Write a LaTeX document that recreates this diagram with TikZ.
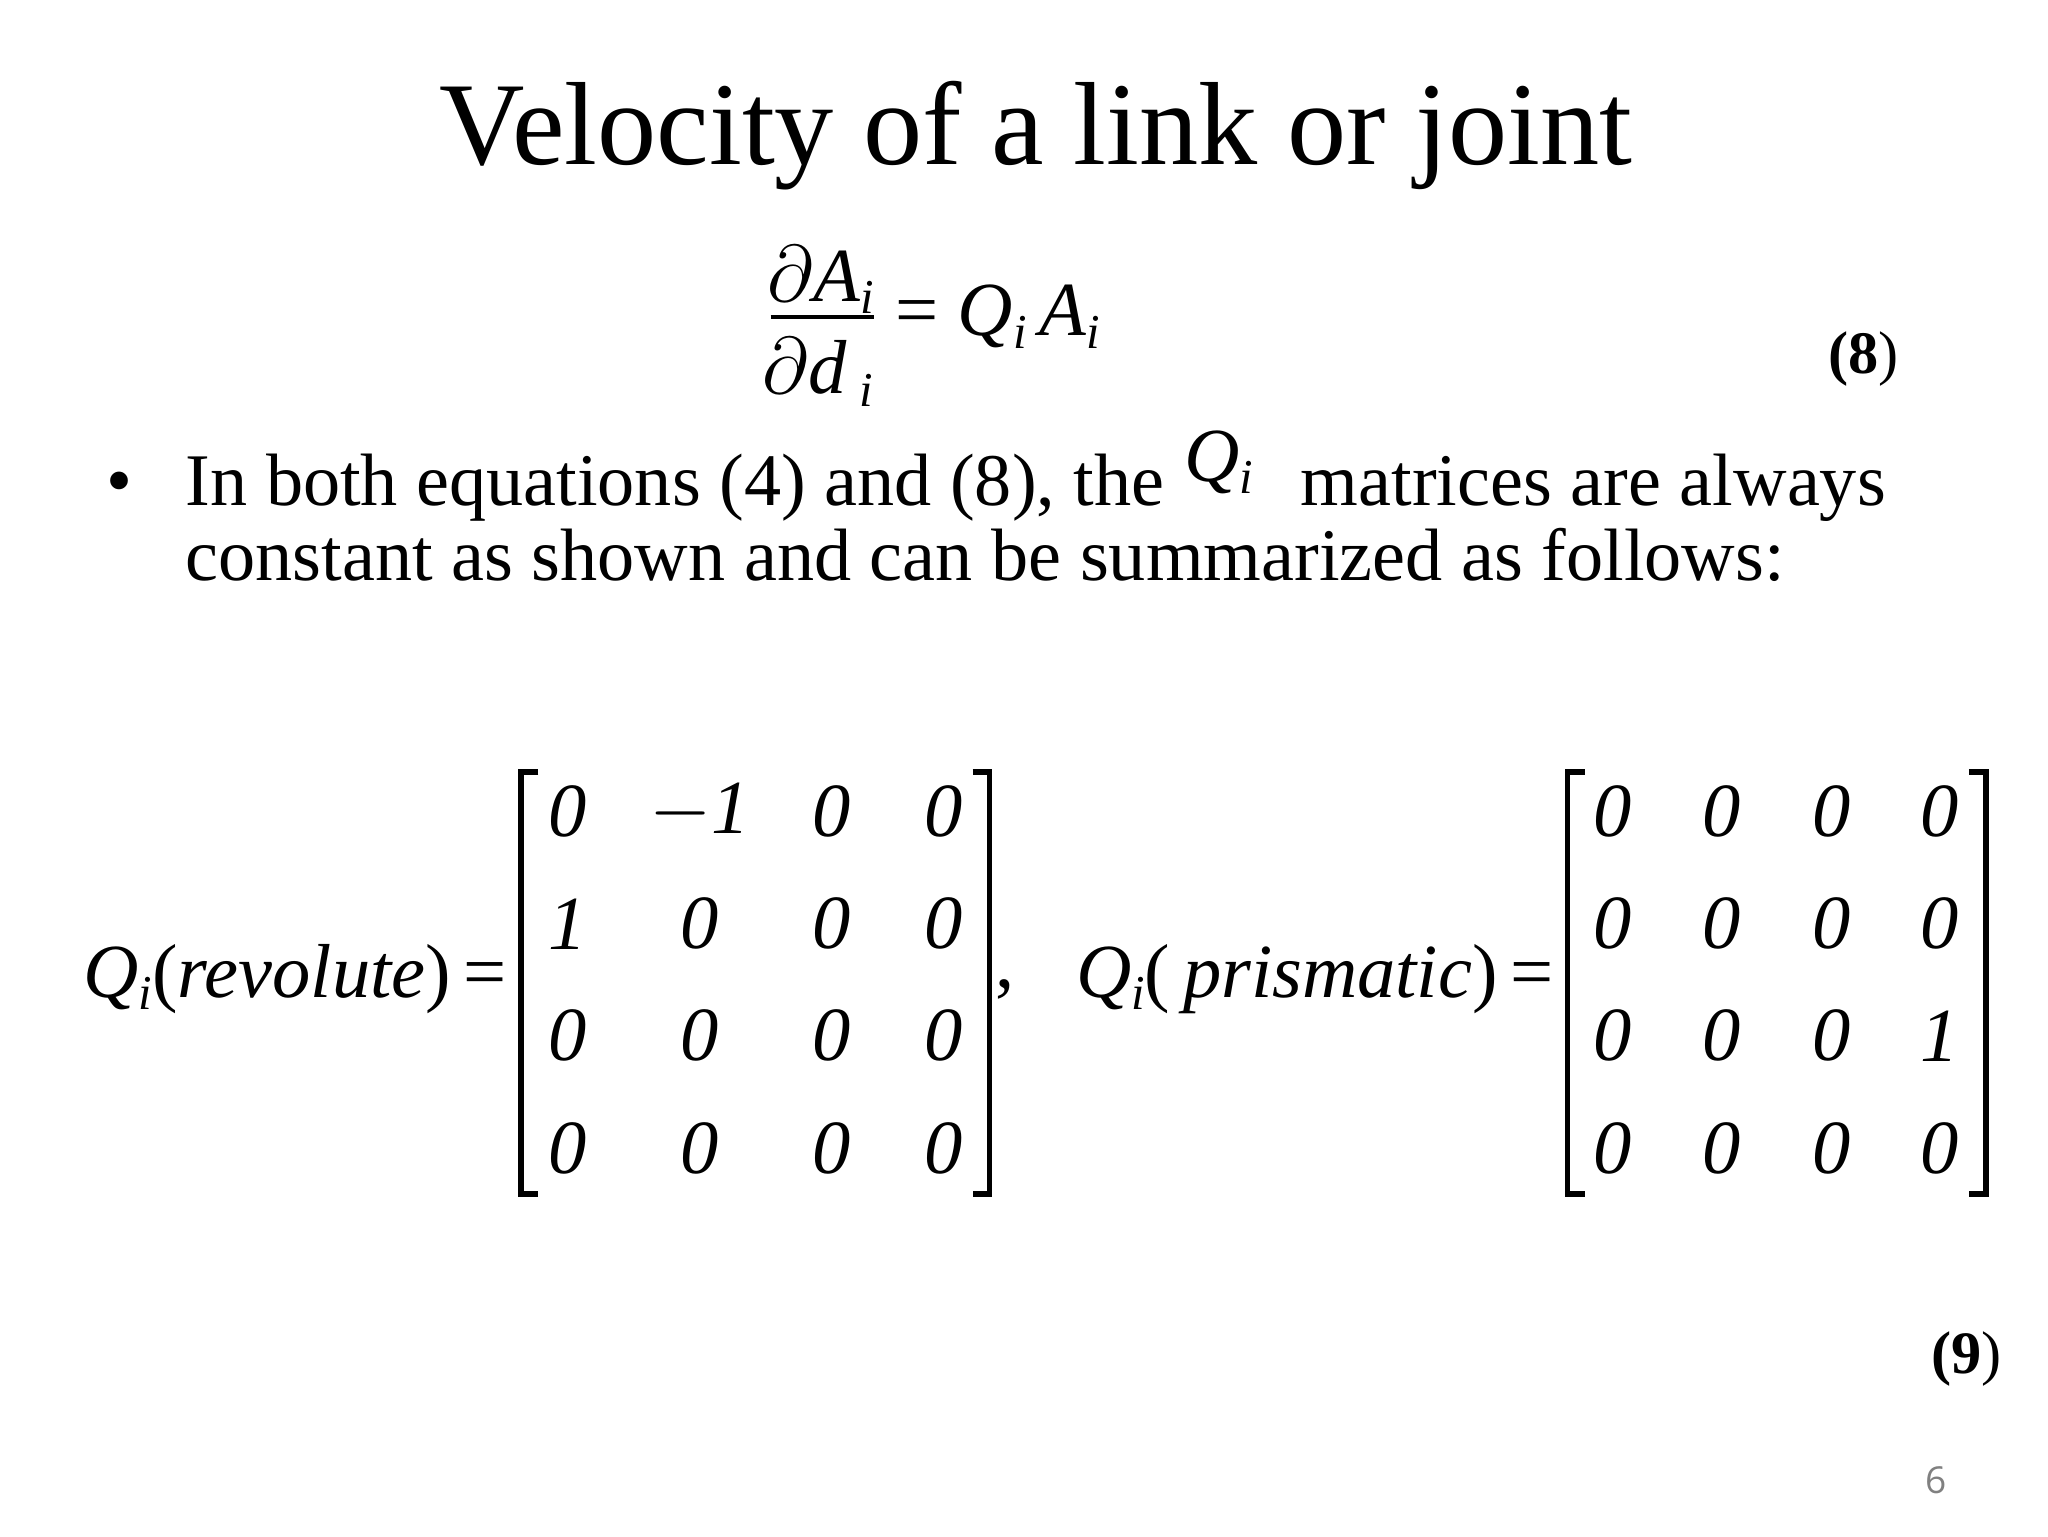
\documentclass[tikz,border=0pt]{standalone}
\usepackage{fontspec}
\setmainfont{Liberation Serif}
\newfontfamily\sansf{Open Sans}
\newcommand{\mysub}[1]{\raisebox{-0.35ex}{\fontsize{10.5}{12}\selectfont\itshape #1}}
\begin{document}
\begin{tikzpicture}[x=0.1mm,y=-0.1mm,
  title/.style={font=\fontsize{25.5}{30}\selectfont},
  body/.style={font=\fontsize{16}{19}\selectfont, anchor=base west, inner sep=0},
  ent/.style={font=\fontsize{16.5}{20}\selectfont\itshape, inner sep=0},
  eq/.style={font=\fontsize{16.5}{20}\selectfont, inner sep=0},
  num/.style={font=\fontsize{13}{15}\selectfont, inner sep=0},
  brk/.style={line width=1.2pt}]
\useasboundingbox (0,0) rectangle (1552,1164);
\node[title] (title) at (785,103) {Velocity of a link or joint};
% equation 8
\node[eq] (num8) at (622,212) {$\partial$\textit{A}\mysub{i}};
\node[eq] (den8) at (620,282) {$\partial$\textit{d}\,\mysub{i}};
\draw[line width=0.8pt] (584,240) coordinate (fa) -- (662,240) coordinate (fb);
\node[eq,anchor=west] (rhs8) at (678,240) {= \textit{Q}\mysub{i}\,\textit{A}\mysub{i}};
\node[num] (n8) at (1412,272) {\textbf{(8})};
% bullet text
\node[body] (bul) at (80,383) {•};
\node[body] (l1) at (140,383) {In both equations (4) and (8), the};
\node[eq,anchor=base west] (qi) at (897,365) {\textit{Q}\mysub{i}};
\node[body] (l1b) at (985,383) {matrices are always};
\node[body] (l2) at (140,440) {constant as shown and can be summarized as follows:};
% matrix 1
\node[eq,anchor=east] (lab1) at (385,742) {\textit{Q}\mysub{i}(\textit{revolute})\,=};
\draw[brk] (408,585) -- (395,585) -- (395,905) -- (408,905);
\draw[brk] (737,585) -- (750,585) -- (750,905) -- (737,905);
\node[eq] (c1) at (762,750) {,};
\foreach \r/\y in {1/615,2/700,3/785,4/870}{
  \foreach \c/\x in {1/430,2/530,3/630,4/715}{
    \ifnum\r\c=12\relax\else\ifnum\r\c=21\relax\else
    \node[ent] (a\r\c) at (\x,\y) {0};\fi\fi
  }}
\node[ent] (a12) at (530,615) {\upshape$-$\itshape1};
\node[ent] (a21) at (430,700) {1};
% matrix 2
\node[eq,anchor=east] (lab2) at (1178,742) {\textit{Q}\mysub{i}(\,\textit{prismatic})\,=};
\draw[brk] (1201,585) -- (1188,585) -- (1188,905) -- (1201,905);
\draw[brk] (1492,585) -- (1505,585) -- (1505,905) -- (1492,905);
\foreach \r/\y in {1/615,2/700,3/785,4/870}{
  \foreach \c/\x in {1/1222,2/1305,3/1388,4/1470}{
    \node[ent] (b\r\c) at (\x,\y) {\ifnum\r\c=34 1\else 0\fi};
  }}
\node[num] (n9) at (1490,1030) {\textbf{(9})};
\node[font=\sansf\fontsize{8}{10}\selectfont, text=gray] (pg) at (1467,1122) {6};
\end{tikzpicture}
\end{document}
